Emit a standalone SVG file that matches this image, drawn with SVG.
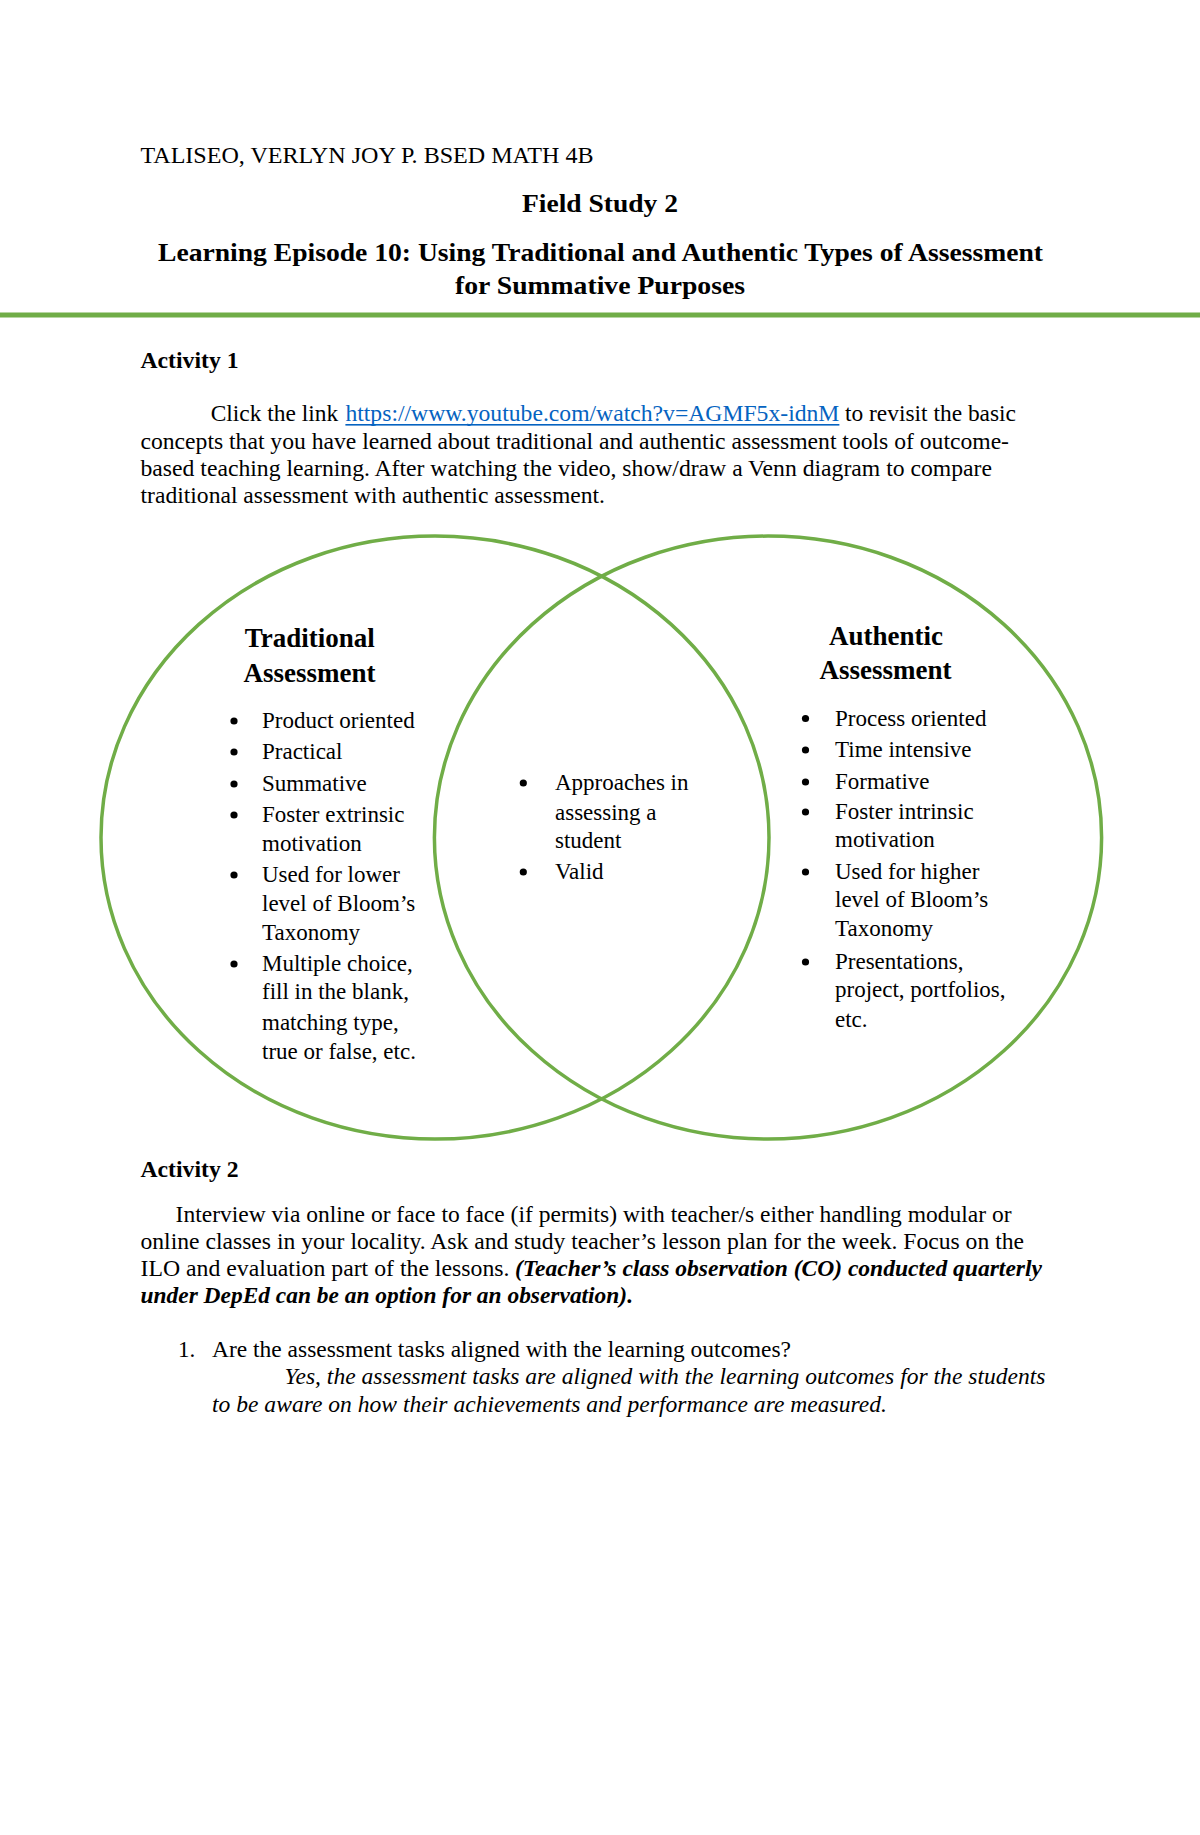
<svg xmlns="http://www.w3.org/2000/svg" width="1200" height="1835" viewBox="0 0 1200 1835">
<style>
  text { font-family: "Liberation Serif", "Times New Roman", serif; fill: #000; }
  .body { font-size: 23px; }
  .bold { font-weight: bold; }
  .bi { font-weight: bold; font-style: italic; }
  .it { font-style: italic; }
  .title { font-size: 26px; font-weight: bold; }
  .vhead { font-size: 27px; font-weight: bold; }
  .vitem { font-size: 23px; }
  .link { fill: #0563C1; }
  .venn { fill: none; stroke: #70AD47; stroke-width: 3.5; }
  .dot { fill: #000; }
</style>
<rect x="0" y="0" width="1200" height="1835" fill="#ffffff"/>

<g id="header">
  <text class="body" x="140.5" y="163" textLength="453" lengthAdjust="spacingAndGlyphs">TALISEO, VERLYN JOY P. BSED MATH 4B</text>
  <text class="title" x="522" y="212" textLength="156" lengthAdjust="spacingAndGlyphs">Field Study 2</text>
  <text class="title" x="158" y="261" textLength="885" lengthAdjust="spacingAndGlyphs">Learning Episode 10: Using Traditional and Authentic Types of Assessment</text>
  <text class="title" x="455" y="294" textLength="290" lengthAdjust="spacingAndGlyphs">for Summative Purposes</text>
  <rect x="0" y="312.5" width="1200" height="5" fill="#70AD47"/>
</g>

<g id="activity1">
  <text class="body bold" x="140.5" y="368" textLength="98" lengthAdjust="spacingAndGlyphs">Activity 1</text>
  <text class="body" x="210.7" y="421" textLength="127.6" lengthAdjust="spacingAndGlyphs">Click the link</text>
  <text class="body link" x="345.4" y="421" textLength="494" lengthAdjust="spacingAndGlyphs">https://www.youtube.com/watch?v=AGMF5x-idnM</text>
  <rect x="345.4" y="424" width="494" height="1.6" fill="#0563C1"/>
  <text class="body" x="845" y="421" textLength="171" lengthAdjust="spacingAndGlyphs">to revisit the basic</text>
  <text class="body" x="140.5" y="448.5" textLength="868.5" lengthAdjust="spacingAndGlyphs">concepts that you have learned about traditional and authentic assessment tools of outcome-</text>
  <text class="body" x="140.5" y="476" textLength="851.5" lengthAdjust="spacingAndGlyphs">based teaching learning. After watching the video, show/draw a Venn diagram to compare</text>
  <text class="body" x="140.5" y="503" textLength="464.5" lengthAdjust="spacingAndGlyphs">traditional assessment with authentic assessment.</text>
</g>

<g id="venn-traditional">
  <ellipse class="venn" cx="435" cy="837.6" rx="334" ry="301.5"/>
  <text class="vhead" x="244.7" y="647">Traditional</text>
  <text class="vhead" x="243.5" y="682">Assessment</text>
  <circle class="dot" cx="234" cy="721" r="3.6"/><text class="vitem" x="262" y="728">Product oriented</text>
  <circle class="dot" cx="234" cy="752" r="3.6"/><text class="vitem" x="262" y="759">Practical</text>
  <circle class="dot" cx="234" cy="784" r="3.6"/><text class="vitem" x="262" y="791">Summative</text>
  <circle class="dot" cx="234" cy="815" r="3.6"/><text class="vitem" x="262" y="822">Foster extrinsic</text>
  <text class="vitem" x="262" y="851">motivation</text>
  <circle class="dot" cx="234" cy="875" r="3.6"/><text class="vitem" x="262" y="882">Used for lower</text>
  <text class="vitem" x="262" y="910.5">level of Bloom’s</text>
  <text class="vitem" x="262" y="940">Taxonomy</text>
  <circle class="dot" cx="234" cy="964" r="3.6"/><text class="vitem" x="262" y="971">Multiple choice,</text>
  <text class="vitem" x="262" y="999">fill in the blank,</text>
  <text class="vitem" x="262" y="1030">matching type,</text>
  <text class="vitem" x="262" y="1059">true or false, etc.</text>
</g>

<g id="venn-authentic">
  <ellipse class="venn" cx="768" cy="837.6" rx="333.6" ry="301.5"/>
  <text class="vhead" x="829" y="645">Authentic</text>
  <text class="vhead" x="819.5" y="679">Assessment</text>
  <circle class="dot" cx="805.5" cy="718.5" r="3.6"/><text class="vitem" x="835" y="725.5">Process oriented</text>
  <circle class="dot" cx="805.5" cy="750" r="3.6"/><text class="vitem" x="835" y="757">Time intensive</text>
  <circle class="dot" cx="805.5" cy="782" r="3.6"/><text class="vitem" x="835" y="789">Formative</text>
  <circle class="dot" cx="805.5" cy="812" r="3.6"/><text class="vitem" x="835" y="819">Foster intrinsic</text>
  <text class="vitem" x="835" y="847">motivation</text>
  <circle class="dot" cx="805.5" cy="872" r="3.6"/><text class="vitem" x="835" y="879">Used for higher</text>
  <text class="vitem" x="835" y="907">level of Bloom’s</text>
  <text class="vitem" x="835" y="936">Taxonomy</text>
  <circle class="dot" cx="805.5" cy="962" r="3.6"/><text class="vitem" x="835" y="969">Presentations,</text>
  <text class="vitem" x="835" y="997">project, portfolios,</text>
  <text class="vitem" x="835" y="1027">etc.</text>
</g>

<g id="venn-common">
  <circle class="dot" cx="523.3" cy="783" r="3.6"/><text class="vitem" x="555" y="790">Approaches in</text>
  <text class="vitem" x="555" y="820">assessing a</text>
  <text class="vitem" x="555" y="848">student</text>
  <circle class="dot" cx="523.3" cy="872" r="3.6"/><text class="vitem" x="555" y="879">Valid</text>
</g>

<g id="connectors"></g>

<g id="activity2">
  <text class="body bold" x="140.5" y="1177" textLength="98" lengthAdjust="spacingAndGlyphs">Activity 2</text>
  <text class="body" x="175.6" y="1222" textLength="836" lengthAdjust="spacingAndGlyphs">Interview via online or face to face (if permits) with teacher/s either handling modular or</text>
  <text class="body" x="140.5" y="1249" textLength="883.5" lengthAdjust="spacingAndGlyphs">online classes in your locality. Ask and study teacher’s lesson plan for the week. Focus on the</text>
  <text class="body" x="140.5" y="1276" textLength="369" lengthAdjust="spacingAndGlyphs">ILO and evaluation part of the lessons.</text>
  <text class="body bi" x="515" y="1276" textLength="527" lengthAdjust="spacingAndGlyphs">(Teacher’s class observation (CO) conducted quarterly</text>
  <text class="body bi" x="140.5" y="1303" textLength="492.5" lengthAdjust="spacingAndGlyphs">under DepEd can be an option for an observation).</text>
  <text class="body" x="178" y="1356.5">1.</text>
  <text class="body" x="212" y="1356.5" textLength="579" lengthAdjust="spacingAndGlyphs">Are the assessment tasks aligned with the learning outcomes?</text>
  <text class="body it" x="284.5" y="1383.5" textLength="761" lengthAdjust="spacingAndGlyphs">Yes, the assessment tasks are aligned with the learning outcomes for the students</text>
  <text class="body it" x="212" y="1411.5" textLength="675" lengthAdjust="spacingAndGlyphs">to be aware on how their achievements and performance are measured.</text>
</g>
</svg>
